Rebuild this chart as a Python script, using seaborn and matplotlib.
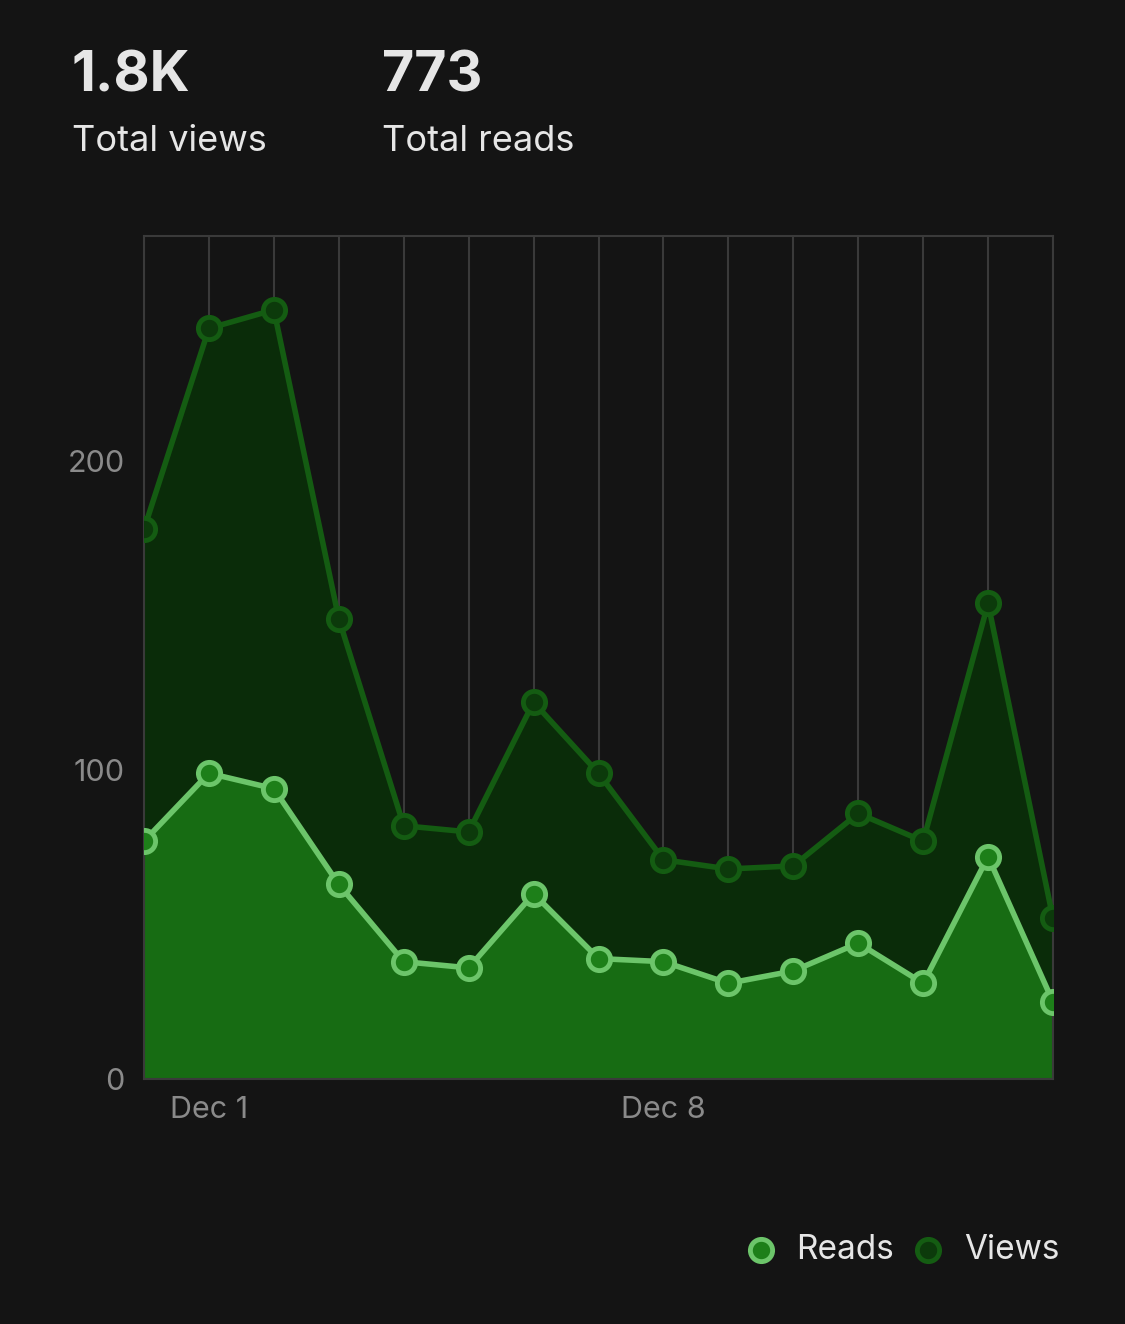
import matplotlib
matplotlib.use("Agg")
import matplotlib.pyplot as plt
import seaborn as sns
import pandas as pd

dates = pd.date_range("2023-11-30", periods=15, freq="D")
views = [178, 243, 249, 149, 82, 80, 122, 99, 71, 68, 69, 86, 77, 154, 52]
reads = [77, 99, 94, 63, 38, 36, 60, 39, 38, 31, 35, 44, 31, 72, 25]
tick_labels = ["Dec 1", "Dec 8"]
tick_dates = [pd.Timestamp("2023-12-01"), pd.Timestamp("2023-12-08")]

sns.set_theme(style="dark")
plt.rcParams['font.family'] = ['Inter', 'DejaVu Sans']
bg = "#141414"
fig = plt.figure(figsize=(11.25, 13.24), dpi=100, facecolor=bg)
ax = fig.add_axes([0.128, 0.185, 0.808, 0.637])
ax.set_facecolor(bg)

df = pd.DataFrame({"date": dates, "Views": views, "Reads": reads})
for d in dates:
    ax.axvline(d, color="#3a3a3a", lw=1.5, zorder=0)

ax.fill_between(dates, views, color="#0a2c09", zorder=1)
ax.fill_between(dates, reads, color="#176c13", zorder=2)
sns.lineplot(data=df, x="date", y="Views", ax=ax, color="#145c12", lw=4, zorder=3,
             marker="o", markersize=16, markerfacecolor="#0c3a0b", markeredgecolor="#145c12", markeredgewidth=3.5)
sns.lineplot(data=df, x="date", y="Reads", ax=ax, color="#6cc56a", lw=4, zorder=4,
             marker="o", markersize=16, markerfacecolor="#1d7f19", markeredgecolor="#6cc56a", markeredgewidth=3.5)

ax.set_xlim(dates[0], dates[-1])
ax.set_ylim(0, 273)
ax.set_yticks([0, 100, 200])
ax.set_xticks(tick_dates)
ax.set_xticklabels(tick_labels)
ax.tick_params(colors="#8a8a8a", labelsize=22, length=0, pad=12)
ax.tick_params(axis="y", pad=14)
ax.set_xlabel(""); ax.set_ylabel("")
ax.grid(False)
for s in ax.spines.values():
    s.set_color("#3a3a3a"); s.set_linewidth(1.5)

fig.text(0.064, 0.942, "1.8K", color="#e6e6e6", fontsize=40, fontweight="bold", va="center")
fig.text(0.064, 0.893, "Total views", color="#e6e6e6", fontsize=26, va="center")
fig.text(0.34, 0.942, "773", color="#e6e6e6", fontsize=40, fontweight="bold", va="center")
fig.text(0.34, 0.893, "Total reads", color="#e6e6e6", fontsize=26, va="center")

fig.lines.append(plt.Line2D([0.676], [0.056], transform=fig.transFigure, marker="o", markersize=16,
                            markerfacecolor="#1d7f19", markeredgecolor="#6cc56a", markeredgewidth=3.5))
fig.text(0.708, 0.056, "Reads", color="#e6e6e6", fontsize=24, va="center")
fig.lines.append(plt.Line2D([0.825], [0.056], transform=fig.transFigure, marker="o", markersize=16,
                            markerfacecolor="#0c3a0b", markeredgecolor="#145c12", markeredgewidth=3.5))
fig.text(0.857, 0.056, "Views", color="#e6e6e6", fontsize=24, va="center")

fig.savefig("out.png", facecolor=bg)
